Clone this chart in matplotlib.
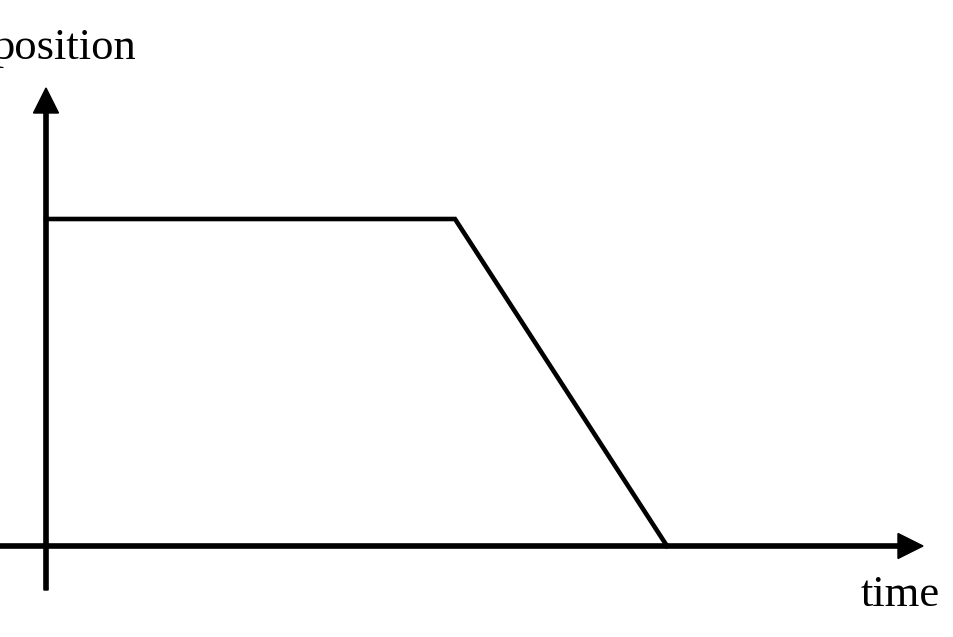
import matplotlib
matplotlib.use('Agg')
import matplotlib.pyplot as plt

# position-time graph (units: arbitrary)
times = [0, 4.09, 6.21]
positions = [3.27, 3.27, 0]
x_label = 'time'
y_label = 'position'


def gambar():
	fig = plt.figure(figsize=(9.54, 6.37), dpi=100)
	ax = fig.add_axes([0, 0, 1, 1])
	ax.set_xlim(-0.46, 9.08)
	ax.set_ylim(-0.91, 5.46)
	ax.axis('off')

	# sumbu x dan y dengan panah
	ax.arrow(-0.46, 0, 9.23, 0, width=0.042, head_width=0.25, head_length=0.25,
			 length_includes_head=True, color='black')
	ax.arrow(0, -0.44, 0, 5.02, width=0.042, head_width=0.25, head_length=0.25,
			 length_includes_head=True, color='black')

	# garis grafik
	ax.plot(times, positions, color='black', linewidth=3.3, solid_joinstyle='miter')

	ax.text(0.90, 4.87, y_label, ha='right', va='baseline', fontsize=32,
			family='Liberation Serif')
	ax.text(8.94, -0.60, x_label, ha='right', va='baseline', fontsize=32,
			family='Liberation Serif')

	fig.savefig('out.png', dpi=100)


if __name__ == '__main__':
	gambar()
